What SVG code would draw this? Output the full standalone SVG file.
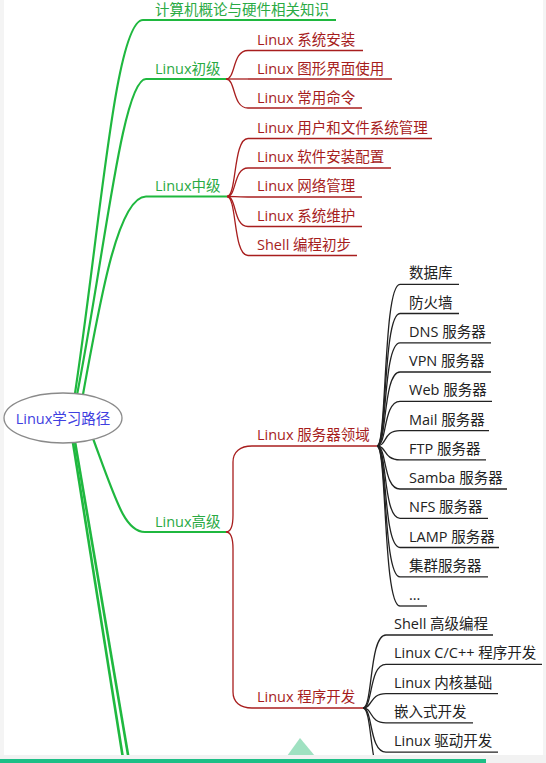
<svg xmlns="http://www.w3.org/2000/svg" width="546" height="763" viewBox="0 0 546 763">
<style>
text{font-family:"Open Sans","Noto Sans CJK SC",sans-serif;font-size:14.5px}
.g{fill:#2aaa44}
.r{fill:#a61d1d}
.k{fill:#222}
.gl{fill:none;stroke:#1fb83f;stroke-width:2.2}
.gd{fill:none;stroke:#1fb83f;stroke-width:2.6}
.rl{fill:none;stroke:#a81e1e;stroke-width:1.3}
.kl{fill:none;stroke:#222;stroke-width:1.3}
</style>
<rect width="546" height="763" fill="#fff"/>
<rect x="0" y="0" width="4" height="763" fill="#f4f4f4"/>
<rect x="543" y="0" width="3" height="763" fill="#f4f4f4"/>
<polygon points="300,738 287,756 315,756" fill="#8edcb6" opacity="0.85"/>
<g id="connectors">
<path class="gl" d="M74,400 C100,230 115,20 143,20"/>
<path class="gl" d="M76,400 C104,260 122,79 146,79"/>
<path class="gl" d="M82,400 C100,300 118,196.5 146,196.5"/>
<path class="gl" d="M88,425 C116,500 124,532 145,532"/>
<path class="gd" d="M71,430 L128,790"/>
<path class="gd" d="M73,430 L134,790"/>
<path class="rl" d="M226,79 C236,79 232,50.5 248,50.5"/>
<path class="rl" d="M226,79 L248,79"/>
<path class="rl" d="M226,79 C236,79 232,108 248,108"/>
<path class="rl" d="M227,196.5 C237,196.5 233,138.5 248,138.5"/>
<path class="rl" d="M227,196.5 C237,196.5 233,168 248,168"/>
<path class="rl" d="M227,196.5 C237,196.5 233,197 248,197"/>
<path class="rl" d="M227,196.5 C237,196.5 233,226.5 248,226.5"/>
<path class="rl" d="M227,196.5 C237,196.5 233,255.5 248,255.5"/>
<path class="rl" d="M226,532 C231,532 233,525 233,515 L233,462 C233,452 240,446 252,446"/>
<path class="rl" d="M226,532 C231,532 233,539 233,549 L233,692 C233,702 240,708 252,708"/>
<path class="kl" d="M377,446 C387,446 383,284.3 400,284.3"/>
<path class="kl" d="M377,446 C387,446 383,313.5 400,313.5"/>
<path class="kl" d="M377,446 C387,446 383,342.8 400,342.8"/>
<path class="kl" d="M377,446 C387,446 383,372 400,372"/>
<path class="kl" d="M377,446 C387,446 383,401.3 400,401.3"/>
<path class="kl" d="M377,446 C387,446 383,430.6 400,430.6"/>
<path class="kl" d="M377,446 C387,446 383,459.8 400,459.8"/>
<path class="kl" d="M377,446 C387,446 383,489 400,489"/>
<path class="kl" d="M377,446 C387,446 383,518.3 400,518.3"/>
<path class="kl" d="M377,446 C387,446 383,547.5 400,547.5"/>
<path class="kl" d="M377,446 C387,446 383,576.8 400,576.8"/>
<path class="kl" d="M377,446 C387,446 383,606 400,606"/>
<path class="kl" d="M363,708 C373,708 369,635 386,635"/>
<path class="kl" d="M363,708 C373,708 369,664.3 386,664.3"/>
<path class="kl" d="M363,708 C373,708 369,693.6 386,693.6"/>
<path class="kl" d="M363,708 C373,708 369,722.9 386,722.9"/>
<path class="kl" d="M363,708 C373,708 369,752.2 386,752.2"/>
<path class="kl" d="M363,708 C373,708 369,781.5 386,781.5"/>
</g>
<g id="root">
<ellipse cx="63" cy="418" rx="59" ry="25" fill="#fff" stroke="#8a8a8a" stroke-width="1.3"/>
<text x="63" y="424" text-anchor="middle" fill="#4040e0">Linux学习路径</text>
</g>
<g id="n-hw"><path class="gl" d="M143,20 L336,20"/><text class="g" x="155" y="15">计算机概论与硬件相关知识</text></g>
<g id="n-basic"><path class="gl" d="M146,79 L226,79"/><text class="g" x="155" y="74">Linux初级</text></g>
<g id="n-mid"><path class="gl" d="M146,196.5 L227,196.5"/><text class="g" x="155" y="191">Linux中级</text></g>
<g id="n-adv"><path class="gl" d="M145,532 L226,532"/><text class="g" x="155" y="527">Linux高级</text></g>
<g id="b1"><path class="rl" d="M248,50.5 L363,50.5"/><text class="r" x="257" y="44.5">Linux 系统安装</text></g>
<g id="b2"><path class="rl" d="M248,79 L392,79"/><text class="r" x="257" y="73.5">Linux 图形界面使用</text></g>
<g id="b3"><path class="rl" d="M248,108 L362,108"/><text class="r" x="257" y="102.5">Linux 常用命令</text></g>
<g id="m1"><path class="rl" d="M248,138.5 L432,138.5"/><text class="r" x="257" y="132.5">Linux 用户和文件系统管理</text></g>
<g id="m2"><path class="rl" d="M248,168 L391,168"/><text class="r" x="257" y="162">Linux 软件安装配置</text></g>
<g id="m3"><path class="rl" d="M248,197 L362,197"/><text class="r" x="257" y="191">Linux 网络管理</text></g>
<g id="m4"><path class="rl" d="M248,226.5 L362,226.5"/><text class="r" x="257" y="220.5">Linux 系统维护</text></g>
<g id="m5"><path class="rl" d="M248,255.5 L357,255.5"/><text class="r" x="257" y="249.5">Shell 编程初步</text></g>
<g id="a1"><path class="rl" d="M252,446 L377,446"/><text class="r" x="257" y="439.5">Linux 服务器领域</text></g>
<g id="a2"><path class="rl" d="M252,708 L363,708"/><text class="r" x="257" y="702">Linux 程序开发</text></g>
<g id="s1"><path class="kl" d="M400,284.3 L459,284.3"/><text class="k" x="409" y="278.3">数据库</text></g>
<g id="s2"><path class="kl" d="M400,313.5 L459,313.5"/><text class="k" x="409" y="307.5">防火墙</text></g>
<g id="s3"><path class="kl" d="M400,342.8 L491,342.8"/><text class="k" x="409" y="336.8">DNS 服务器</text></g>
<g id="s4"><path class="kl" d="M400,372 L491,372"/><text class="k" x="409" y="366">VPN 服务器</text></g>
<g id="s5"><path class="kl" d="M400,401.3 L492,401.3"/><text class="k" x="409" y="395.3">Web 服务器</text></g>
<g id="s6"><path class="kl" d="M400,430.6 L489,430.6"/><text class="k" x="409" y="424.6">Mail 服务器</text></g>
<g id="s7"><path class="kl" d="M400,459.8 L486,459.8"/><text class="k" x="409" y="453.8">FTP 服务器</text></g>
<g id="s8"><path class="kl" d="M400,489 L507,489"/><text class="k" x="409" y="483">Samba 服务器</text></g>
<g id="s9"><path class="kl" d="M400,518.3 L488,518.3"/><text class="k" x="409" y="512.3">NFS 服务器</text></g>
<g id="s10"><path class="kl" d="M400,547.5 L499,547.5"/><text class="k" x="409" y="541.5">LAMP 服务器</text></g>
<g id="s11"><path class="kl" d="M400,576.8 L488,576.8"/><text class="k" x="409" y="570.8">集群服务器</text></g>
<g id="s12"><path class="kl" d="M400,606 L427,606"/><text class="k" x="409" y="600">...</text></g>
<g id="p1"><path class="kl" d="M386,635 L493,635"/><text class="k" x="394" y="629">Shell 高级编程</text></g>
<g id="p2"><path class="kl" d="M386,664.3 L542,664.3"/><text class="k" x="394" y="658.3">Linux C/C++ 程序开发</text></g>
<g id="p3"><path class="kl" d="M386,693.6 L498,693.6"/><text class="k" x="394" y="687.6">Linux 内核基础</text></g>
<g id="p4"><path class="kl" d="M386,722.9 L473,722.9"/><text class="k" x="394" y="716.9">嵌入式开发</text></g>
<g id="p5"><path class="kl" d="M386,752.2 L498,752.2"/><text class="k" x="394" y="746.2">Linux 驱动开发</text></g>
<rect x="0" y="755" width="546" height="8" fill="#f2f2f2"/>
<rect x="0" y="759" width="486" height="4" fill="#1dbf86"/>
</svg>
